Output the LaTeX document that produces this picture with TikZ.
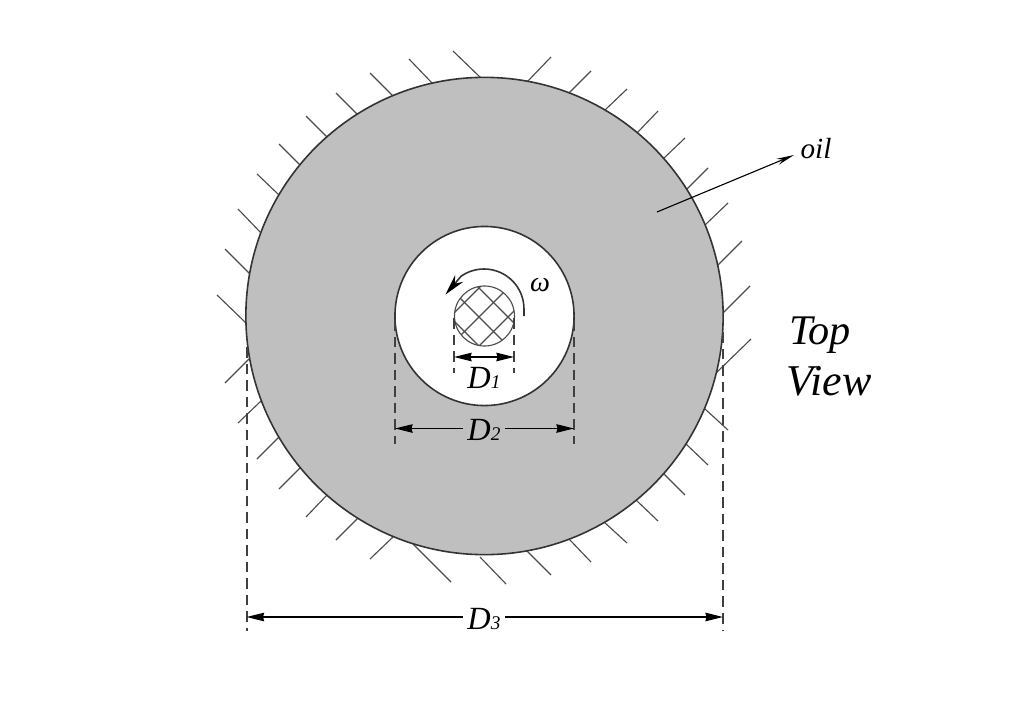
\documentclass[tikz,border=0pt]{standalone}
\usepackage{fontspec}
\setmainfont{Liberation Serif}
\usetikzlibrary{arrows.meta}
\tikzset{
    thinline/.style = {line width = 0.32pt, black!70},
    outline/.style = {line width = 0.45pt, black!80},
    dimdash/.style = {line width = 0.45pt, black!75, dash pattern = on 3pt off 1.7pt},
    dimline/.style = {line width = 0.4pt, black, -{Stealth[length = 5pt, width = 2.4pt, inset = 0.3pt]}},
    dimboth/.style = {dimline, {Stealth[length = 5pt, width = 2.4pt, inset = 0.3pt]}-{Stealth[length = 5pt, width = 2.4pt, inset = 0.3pt]}},
    dimlabel/.style = {inner sep = 1.2pt, font = \itshape\fontsize{9.2}{10}\selectfont},
}
\newcommand{\dimsub}[1]{{\fontsize{5.5}{6}\selectfont #1}}
\begin{document}
\begin{tikzpicture}[x = 0.01cm, y = -0.01cm]
    \useasboundingbox (0, 0) rectangle (1027, 721);
    \fill[white] (0, 0) rectangle (1027, 721);
    % hatching round the outer wall
    \foreach \xa/\ya/\xb/\yb in {
        453/51/481/78, 409/59/432/83, 370/73/393/96, 336/93/358/115, 306/116/327/137,
        279/144/300/165, 257/174/279/195, 238/209/261/233, 225/249/250/274, 217/295/246/323,
        551/57/527/82, 591/71/569/93, 627/89/604/111, 658/111/637/133, 685/138/663/159,
        708/168/686/190, 728/203/705/225, 742/241/717/266, 750/286/723/313,
        225/383/249/359, 238/423/261/401, 257/459/279/437, 279/489/300/468, 306/517/327/495,
        336/540/358/518, 370/559/393/537, 451/582/413/544, 506/584/480/557,
        551/575/527/551, 591/562/569/539, 627/543/604/522, 658/521/636/500, 685/495/663/473,
        708/465/686/444, 728/430/705/409, 751/339/715/374}
    {
        \draw[thinline] (\xa, \ya) -- (\xb, \yb);
    }
    % oil ring and the shaft
    \coordinate (center) at (484.5, 316);
    \draw[outline, fill = black!25] (center) circle (2.385cm);
    \draw[outline, fill = white] (center) circle (0.895cm);
    \begin{scope}
        \clip (center) circle (0.3cm);
        \foreach \k in {-2, -1, 0, 1, 2} {
            \draw[thinline] ({479 + 14.5*\k - 40}, {317 - 14.5*\k - 40}) -- ({479 + 14.5*\k + 40}, {317 - 14.5*\k + 40});
            \draw[thinline] ({479 + 14.5*\k - 40}, {317 + 14.5*\k + 40}) -- ({479 + 14.5*\k + 40}, {317 + 14.5*\k - 40});
        }
    \end{scope}
    \draw[thinline] (center) circle (0.3cm);
    % rotation arrow
    \coordinate (spinstart) at (524, 316);
    \draw[outline, -{Stealth[length = 6pt, width = 3pt, black]}] (spinstart) -- (524, 309) arc (0 : -125 : 40 and 40) -- (445.5, 294.5);
    \node (omega) at (540, 285) {\itshape\fontsize{8}{9}\selectfont ω};
    % D1
    \coordinate (d1left) at (454, 357);
    \coordinate (d1right) at (514, 357);
    \draw[dimdash] (454, 318) -- (454, 373);
    \draw[dimdash] (514, 318) -- (514, 373);
    \draw[dimboth] (d1left) -- (d1right);
    \node[dimlabel] (d1label) at (484, 378) {D\dimsub{1}};
    % D2
    \coordinate (d2left) at (395, 428.5);
    \coordinate (d2right) at (574, 428.5);
    \draw[dimdash] (395, 320) -- (395, 444);
    \draw[dimdash] (574, 320) -- (574, 444);
    \node[dimlabel] (d2label) at (484, 430) {D\dimsub{2}};
    \draw[dimline] (d2label.west) ++(0, -1.5) -- (d2left);
    \draw[dimline] (d2label.east) ++(0, -1.5) -- (d2right);
    % D3
    \coordinate (d3left) at (246.5, 617);
    \coordinate (d3right) at (723, 617);
    \draw[dimdash] (247, 347) -- (247, 631);
    \draw[dimdash] (723, 332) -- (723, 631);
    \node[dimlabel] (d3label) at (484, 618.5) {D\dimsub{3}};
    \draw[dimline] (d3label.west) ++(0, -1.5) -- (d3left);
    \draw[dimline] (d3label.east) ++(0, -1.5) -- (d3right);
    % labels
    \coordinate (oilstart) at (657, 212);
    \node[inner sep = 0pt, font = \itshape\fontsize{8.3}{9}\selectfont] (oil) at (816, 149) {oil};
    \draw[thinline, black, -{Stealth[length = 5pt, width = 1.8pt, black]}] (oilstart) -- (794, 155);
    \node[font = \itshape\fontsize{12}{13}\selectfont] (top) at (820, 335) {Top};
    \node[font = \itshape\fontsize{12.5}{13}\selectfont] (view) at (829, 381) {View};
\end{tikzpicture}
\end{document}
